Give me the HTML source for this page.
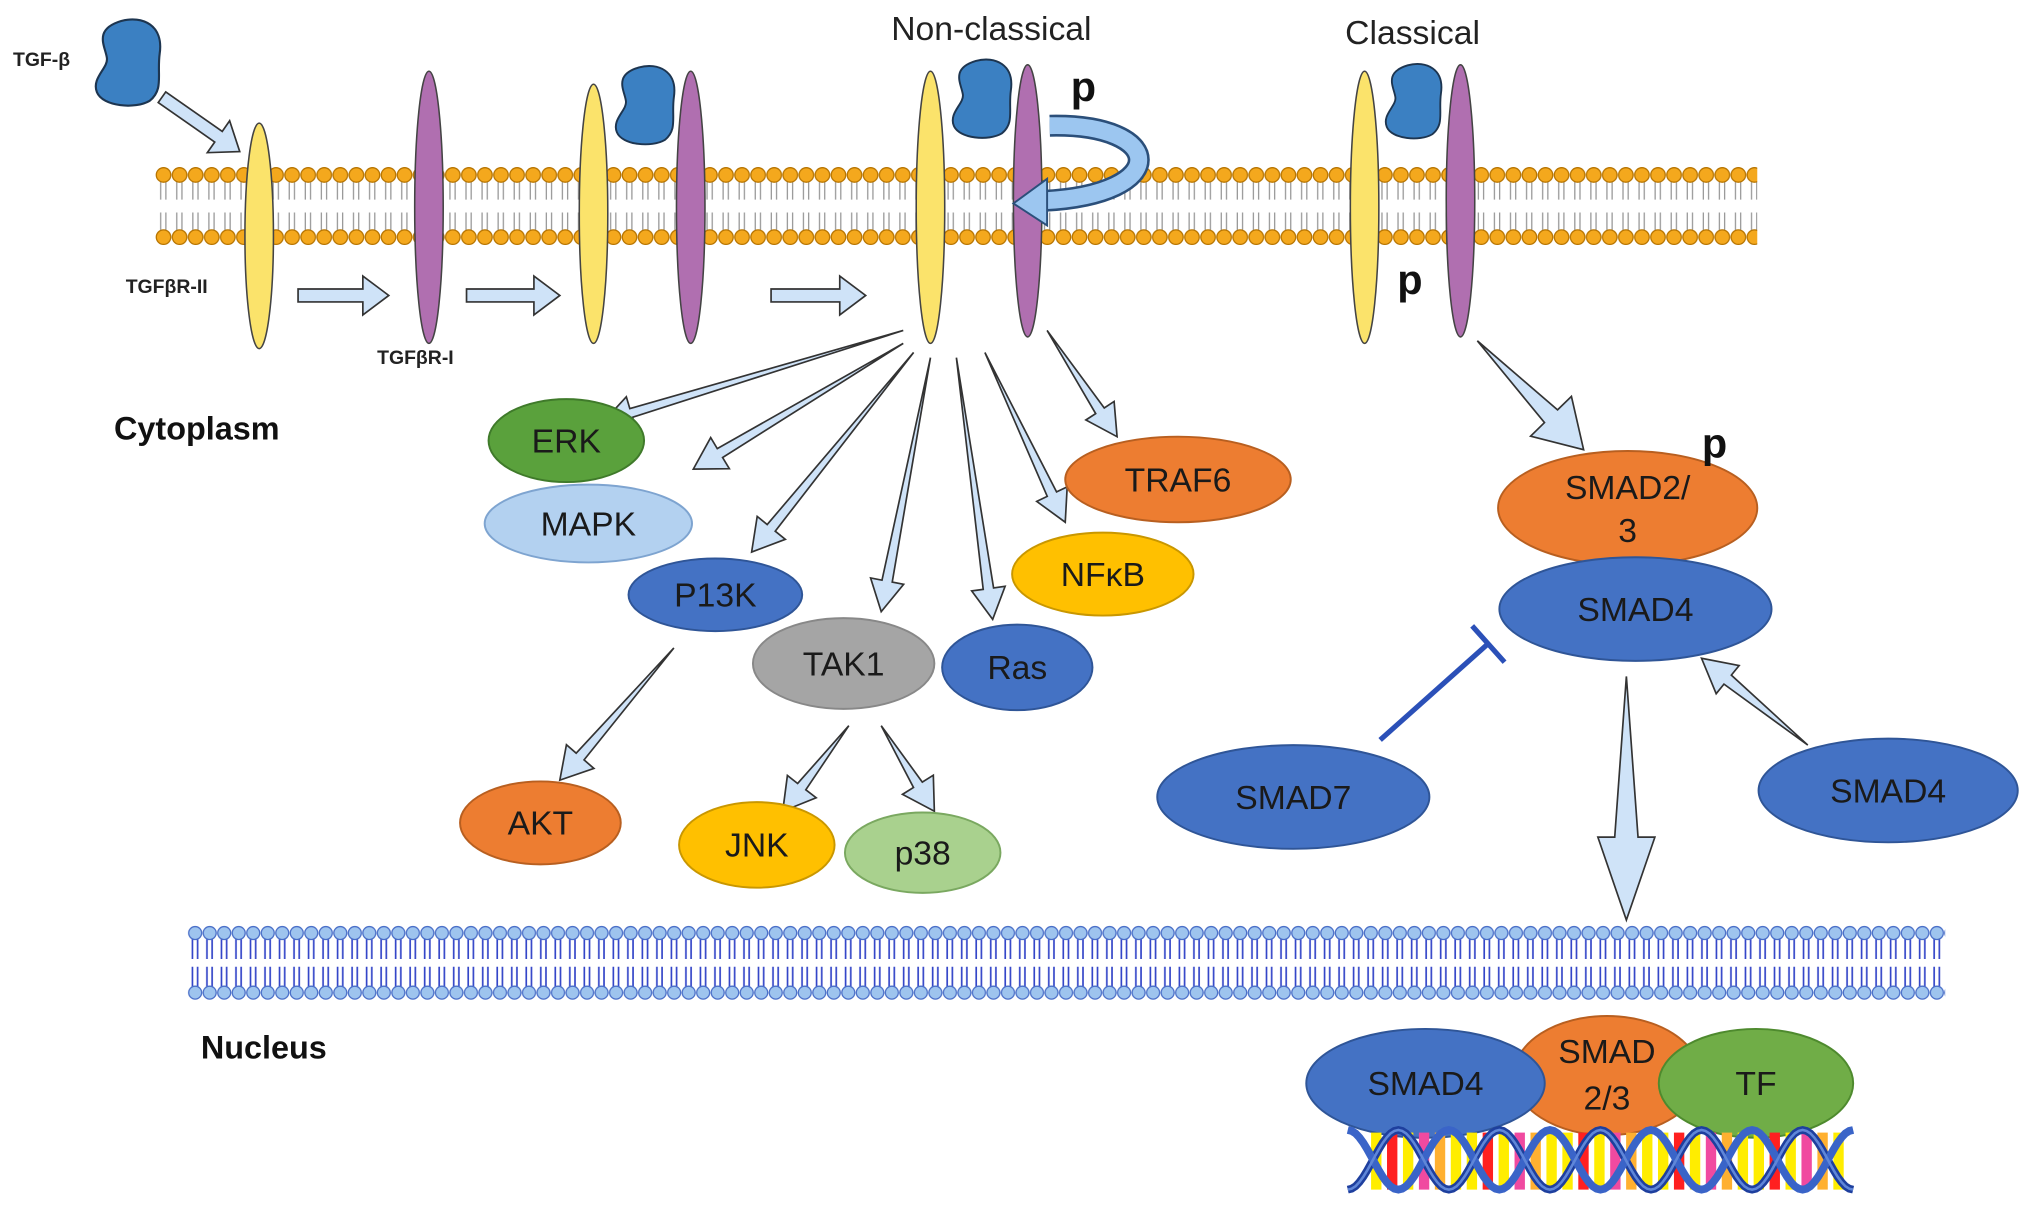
<!DOCTYPE html>
<html><head><meta charset="utf-8"><style>
html,body{margin:0;padding:0;background:#fff;}
svg{display:block;}
text{font-family:"Liberation Sans",sans-serif;}
.lbl{font-size:26px;fill:#1a1a1a;text-anchor:middle;dominant-baseline:central;}
</style></head><body>
<svg id="s" width="2032" height="1211" viewBox="0 0 1568 934.5" preserveAspectRatio="none" xmlns="http://www.w3.org/2000/svg">
<defs>
<pattern id="memO" x="120" y="0" width="12.4" height="934.5" patternUnits="userSpaceOnUse">
 <path d="M4,140 v14 M8,140 v14 M4,164 v14 M8,164 v14" stroke="#999" stroke-width="1" fill="none"/>
 <circle cx="6.2" cy="135" r="5.6" fill="#f4a81d" stroke="#b77400" stroke-width="1"/>
 <circle cx="6.2" cy="183" r="5.6" fill="#f4a81d" stroke="#b77400" stroke-width="1"/>
</pattern>
<pattern id="memB" x="145" y="0" width="11.2" height="934.5" patternUnits="userSpaceOnUse">
 <path d="M3.5,724 v16 M7.5,724 v16 M3.5,746 v16 M7.5,746 v16" stroke="#3446c8" stroke-width="1.3" fill="none"/>
 <circle cx="5.6" cy="720" r="5" fill="#9ec4ee" stroke="#4a6fc8" stroke-width="1"/>
 <circle cx="5.6" cy="766" r="5" fill="#9ec4ee" stroke="#4a6fc8" stroke-width="1"/>
</pattern>
<path id="bean" d="M-5,-28 C10,-32 25,-25 22,-5 C20,10 25,20 15,28 C5,34 -18,32 -22,22 C-26,12 -14,5 -15,-2 C-16,-10 -25,-22 -5,-28 Z"/>
</defs>

<rect x="120" y="128" width="1236" height="62" fill="url(#memO)"/>
<rect x="145" y="713" width="1356" height="60" fill="url(#memB)"/>

<g id="arrows"></g>

<g stroke="#444" stroke-width="1.2">
<ellipse cx="200" cy="182" rx="11" ry="87" fill="#fbe36b"/>
<ellipse cx="331" cy="160" rx="11" ry="105" fill="#b06fb0"/>
<ellipse cx="458" cy="165" rx="11" ry="100" fill="#fbe36b"/>
<ellipse cx="533" cy="160" rx="11" ry="105" fill="#b06fb0"/>
<ellipse cx="718" cy="160" rx="11" ry="105" fill="#fbe36b"/>
<ellipse cx="793" cy="155" rx="11" ry="105" fill="#b06fb0"/>
<ellipse cx="1053" cy="160" rx="11" ry="105" fill="#fbe36b"/>
<ellipse cx="1127" cy="155" rx="11" ry="105" fill="#b06fb0"/>
</g>
<g fill="#3b80c2" stroke="#1d3550" stroke-width="1.5">
<use href="#bean" transform="translate(99,47) scale(1.1)"/>
<use href="#bean" transform="translate(498,80) scale(1.0)"/>
<use href="#bean" transform="translate(758,75) scale(1.0)"/>
<use href="#bean" transform="translate(1091,77) scale(0.95)"/>
</g>

<path d="M810,97 C900,95 905,150 805,155" fill="none" stroke="#2b4f7a" stroke-width="17"/>
<path d="M810,97 C900,95 905,150 805,155" fill="none" stroke="#9cc6f0" stroke-width="13"/>
<polygon points="782,157 808,138 808,174" fill="#9cc6f0" stroke="#2b4f7a" stroke-width="1.5"/>

<line x1="1065" y1="571" x2="1148" y2="497" stroke="#2b50b8" stroke-width="4"/>
<line x1="1136" y1="483" x2="1161" y2="511" stroke="#2b50b8" stroke-width="4"/>

<g stroke-width="1.5">
<ellipse cx="437" cy="340" rx="60" ry="32" fill="#5aa13c" stroke="#3f7a2a"/>
<ellipse cx="454" cy="404" rx="80" ry="30" fill="#b3d1f0" stroke="#7ea4d0"/>
<ellipse cx="552" cy="459" rx="67" ry="28" fill="#4472c4" stroke="#2f5597"/>
<ellipse cx="651" cy="512" rx="70" ry="35" fill="#a5a5a5" stroke="#888"/>
<ellipse cx="785" cy="515" rx="58" ry="33" fill="#4472c4" stroke="#2f5597"/>
<ellipse cx="851" cy="443" rx="70" ry="32" fill="#ffc000" stroke="#c99700"/>
<ellipse cx="909" cy="370" rx="87" ry="33" fill="#ed7d31" stroke="#b85f20"/>
<ellipse cx="417" cy="635" rx="62" ry="32" fill="#ed7d31" stroke="#b85f20"/>
<ellipse cx="584" cy="652" rx="60" ry="33" fill="#ffc000" stroke="#c99700"/>
<ellipse cx="712" cy="658" rx="60" ry="31" fill="#a9d18e" stroke="#7aa860"/>
<ellipse cx="1256" cy="392" rx="100" ry="44" fill="#ed7d31" stroke="#b85f20"/>
<ellipse cx="1262" cy="470" rx="105" ry="40" fill="#4472c4" stroke="#2f5597"/>
<ellipse cx="998" cy="615" rx="105" ry="40" fill="#4472c4" stroke="#2f5597"/>
<ellipse cx="1457" cy="610" rx="100" ry="40" fill="#4472c4" stroke="#2f5597"/>
<ellipse cx="1240" cy="830" rx="72" ry="46" fill="#ed7d31" stroke="#b85f20"/>
<ellipse cx="1100" cy="836" rx="92" ry="42" fill="#4472c4" stroke="#2f5597"/>
<ellipse cx="1355" cy="836" rx="75" ry="42" fill="#70ad47" stroke="#4e8a2e"/>
</g>

<g id="dna"></g>

<g class="lbl">
<text x="437" y="341" class="lbl">ERK</text>
<text x="454" y="405" class="lbl">MAPK</text>
<text x="552" y="460" class="lbl">P13K</text>
<text x="651" y="513" class="lbl">TAK1</text>
<text x="785" y="516" class="lbl">Ras</text>
<text x="851" y="444" class="lbl">NFκB</text>
<text x="909" y="371" class="lbl">TRAF6</text>
<text x="417" y="636" class="lbl">AKT</text>
<text x="584" y="653" class="lbl">JNK</text>
<text x="712" y="659" class="lbl">p38</text>
<text x="1256" y="377" class="lbl">SMAD2/</text>
<text x="1256" y="410" class="lbl">3</text>
<text x="1262" y="471" class="lbl">SMAD4</text>
<text x="998" y="616" class="lbl">SMAD7</text>
<text x="1457" y="611" class="lbl">SMAD4</text>
<text x="1100" y="837" class="lbl">SMAD4</text>
<text x="1240" y="812" class="lbl">SMAD</text>
<text x="1240" y="848" class="lbl">2/3</text>
<text x="1355" y="837" class="lbl">TF</text>
</g>
<text x="765" y="31" font-size="26" text-anchor="middle" fill="#222">Non-classical</text>
<text x="1090" y="34" font-size="26" text-anchor="middle" fill="#222">Classical</text>
<text x="836" y="78" font-size="32" font-weight="bold" text-anchor="middle" fill="#111">p</text>
<text x="1088" y="227" font-size="32" font-weight="bold" text-anchor="middle" fill="#111">p</text>
<text x="1323" y="353" font-size="32" font-weight="bold" text-anchor="middle" fill="#111">p</text>
<text x="10" y="51" font-size="15" font-weight="bold" fill="#222">TGF-β</text>
<text x="97" y="226" font-size="15" font-weight="bold" fill="#222">TGFβR-II</text>
<text x="291" y="281" font-size="15" font-weight="bold" fill="#222">TGFβR-I</text>
<text x="88" y="339" font-size="25" font-weight="bold" fill="#111">Cytoplasm</text>
<text x="155" y="817" font-size="25" font-weight="bold" fill="#111">Nucleus</text>
</svg>
<script>
var NS="http://www.w3.org/2000/svg";
var g=document.getElementById("arrows");
function poly(pts,fill,stroke,sw){var p=document.createElementNS(NS,"polygon");p.setAttribute("points",pts.map(function(a){return a[0].toFixed(1)+","+a[1].toFixed(1)}).join(" "));p.setAttribute("fill",fill);p.setAttribute("stroke",stroke);p.setAttribute("stroke-width",sw||1.2);p.setAttribute("stroke-linejoin","miter");g.appendChild(p);}
function arr(x1,y1,x2,y2,tw,sw,hw,hl){var dx=x2-x1,dy=y2-y1,L=Math.hypot(dx,dy),ux=dx/L,uy=dy/L,nx=-uy,ny=ux;
var bx=x2-ux*hl,by=y2-uy*hl;
poly([[x1+nx*tw/2,y1+ny*tw/2],[bx+nx*sw/2,by+ny*sw/2],[bx+nx*hw/2,by+ny*hw/2],[x2,y2],[bx-nx*hw/2,by-ny*hw/2],[bx-nx*sw/2,by-ny*sw/2],[x1-nx*tw/2,y1-ny*tw/2]],"#cfe3f8","#333",1.3);}
arr(125,75,185,117,10,10,30,20);
arr(230,228,300,228,10,10,30,20);
arr(360,228,432,228,10,10,30,20);
arr(595,228,668,228,10,10,30,20);
arr(697,255,466,325,0,7,26,22);
arr(697,265,535,362,0,8,28,24);
arr(705,272,580,426,0,8,28,24);
arr(718,276,680,472,0,8,26,24);
arr(738,276,766,478,0,8,26,24);
arr(760,272,822,403,0,8,26,24);
arr(808,255,862,337,0,8,26,24);
arr(1140,263,1222,347,0,14,44,36);
arr(520,500,432,602,0,8,28,24);
arr(655,560,604,626,0,8,28,24);
arr(680,560,721,626,0,8,28,24);
arr(1255,522,1255,710,0,18,44,64);
arr(1395,575,1313,508,0,9,28,26);
var d=document.getElementById("dna");
function el(tag,attrs){var e=document.createElementNS(NS,tag);for(var k in attrs)e.setAttribute(k,attrs[k]);d.appendChild(e);return e;}
var cols=["#ffed00","#ff2020","#ffed00","#f04aa0","#ffb030","#ffed00"];
for(var i=0;i<30;i++){var x=1058+i*12.3;var c=cols[i%6];el("rect",{x:x,y:874,width:8,height:44,fill:c});}
function strand(ph){var s="";for(var x=1040;x<=1430;x+=3){var y=895+23*Math.cos((x-1040)/390*5*2*Math.PI+ph);s+=(x==1040?"M":"L")+x+","+y.toFixed(1);}return s;}
el("path",{d:strand(0),fill:"none",stroke:"#1e3f9e","stroke-width":6});
el("path",{d:strand(Math.PI),fill:"none",stroke:"#3a64c8","stroke-width":6});
el("path",{d:strand(0),fill:"none",stroke:"#5f86d8","stroke-width":2});
</script>
</body></html>
